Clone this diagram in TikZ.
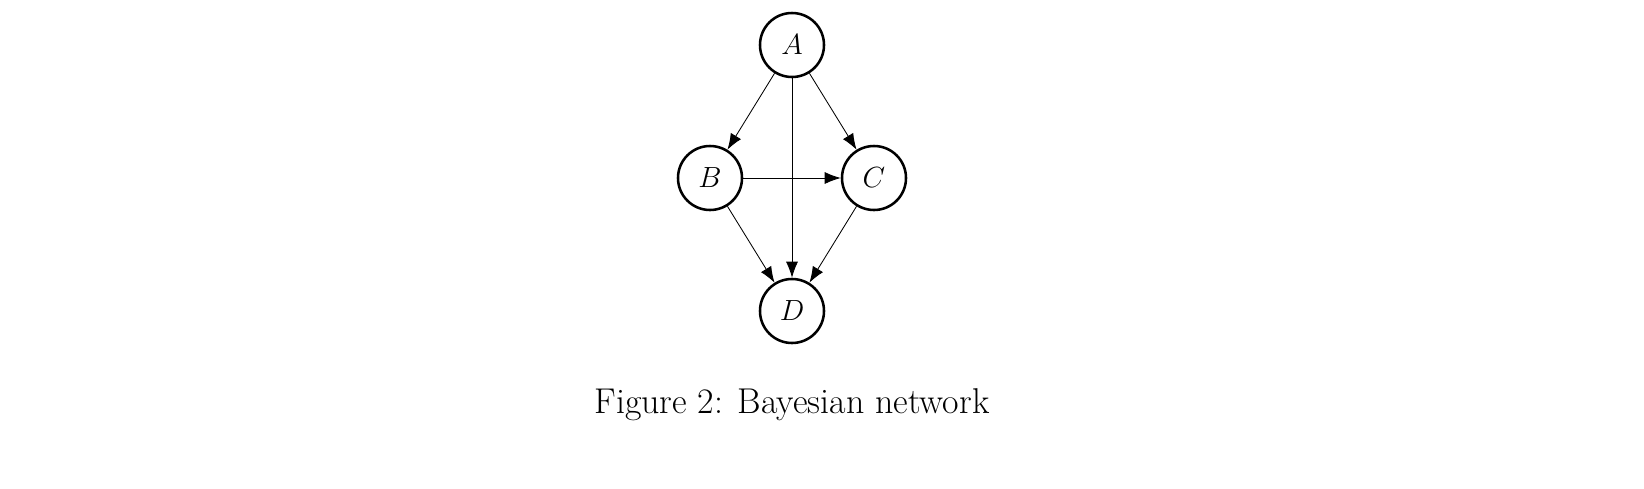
\documentclass[tikz,border=0pt]{standalone}
\usetikzlibrary{arrows.meta}
\begin{document}
\begin{tikzpicture}[x=0.025cm,y=-0.025cm,
  var/.style={circle,draw,line width=1.8pt,minimum size=1.6cm,inner sep=0pt,font=\fontsize{22}{26}\selectfont},
  edge/.style={line width=0.6pt,-{Latex[length=0.4cm,width=0.3cm]}}]
\useasboundingbox (0,0) rectangle (1644,488);
\node[var] (A) at (792,45) {$A$};
\node[var] (B) at (710,178) {$B$};
\node[var] (C) at (874,178) {$C$};
\node[var] (D) at (792,311) {$D$};
\draw[edge] (A) -- (B);
\draw[edge] (A) -- (C);
\draw[edge] (A) -- (D);
\draw[edge] (B) -- (C);
\draw[edge] (B) -- (D);
\draw[edge] (C) -- (D);
\node[font=\fontsize{25.5}{30}\selectfont] (cap) at (792,405) {Figure 2: Bayesian network};
\end{tikzpicture}
\end{document}
